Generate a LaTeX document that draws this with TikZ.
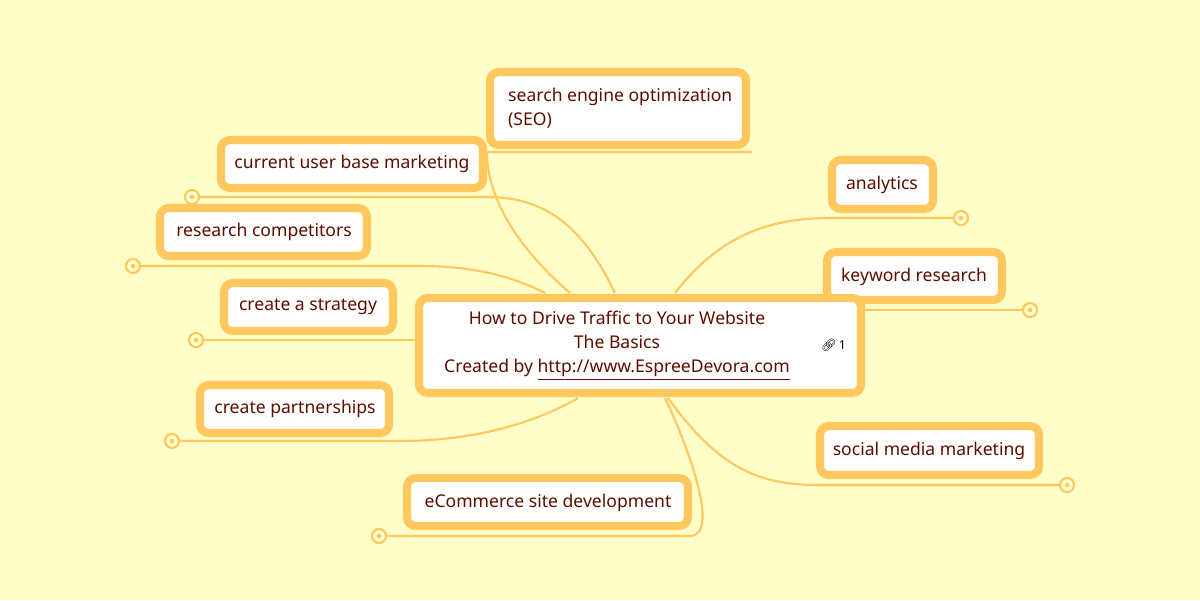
\documentclass[tikz,border=0pt]{standalone}
\usepackage{fontspec}
\setmainfont{Noto Sans}
\newfontfamily\emo{Noto Emoji}
\definecolor{bg}{HTML}{FFFDC8}
\definecolor{ob}{HTML}{FFC85E}
\definecolor{tx}{HTML}{5C0E00}
\begin{document}
\begin{tikzpicture}[x=0.02cm,y=-0.02cm,
  bx/.style={draw=ob,line width=4.6pt,fill=white,rounded corners=5pt},
  lb/.style={text=tx,font=\fontsize{10}{13.6}\selectfont},
  con/.style={draw=ob,line width=1.2pt},
  dot/.style={circle,draw=ob,line width=1.2pt,fill=bg,minimum size=8pt,inner sep=0pt,
    path picture={\fill[ob] (path picture bounding box.center) circle (1.3pt);}}]
\fill[bg] (0,0) rectangle (1200,600);
\useasboundingbox (0,0) rectangle (1200,600);
\node[dot] (d1) at (192,197) {};
\node[dot] (d2) at (133,266) {};
\node[dot] (d3) at (196,340) {};
\node[dot] (d4) at (172,441) {};
\node[dot] (d5) at (379,536) {};
\node[dot] (d6) at (961,218) {};
\node[dot] (d7) at (1030,310) {};
\node[dot] (d8) at (1067,485) {};
\coordinate (s1) at (487,152); \coordinate (s2) at (752,152);
\coordinate (c1) at (570,293); \coordinate (c2) at (615,293);
\coordinate (c3) at (545,293); \coordinate (c4) at (578,398);
\coordinate (c5) at (665,398); \coordinate (c6) at (675,293);
\coordinate (c7) at (668,398);
\draw[con] (c1) .. controls (520,250) and (487,200) .. (s1) -- (s2);
\draw[con] (c2) .. controls (580,220) and (540,197) .. (486,197) -- (d1);
\draw[con] (c3) .. controls (510,275) and (470,266) .. (420,266) -- (d2);
\draw[con] (416,340) -- (d3);
\draw[con] (c4) .. controls (540,420) and (480,441) .. (400,441) -- (d4);
\draw[con] (c5) .. controls (690,450) and (720,536) .. (690,536) -- (d5);
\draw[con] (c6) .. controls (720,235) and (770,218) .. (830,218) -- (d6);
\draw[con] (860,310) -- (d7);
\draw[con] (c7) .. controls (720,470) and (760,485) .. (820,485) -- (d8);
\draw[bx] (490,72) rectangle (746,145);
\node[lb,align=left,anchor=west] (seot) at (502,108) {search engine optimization\\(SEO)};
\draw[bx] (221,140) rectangle (483,188);
\node[lb] (cub) at (352,164) {current user base marketing};
\draw[bx] (160,208) rectangle (367,256);
\node[lb] (rc) at (264,232) {research competitors};
\draw[bx] (224,283) rectangle (393,331);
\node[lb] (cs) at (308,307) {create a strategy};
\draw[bx] (200,385) rectangle (389,433);
\node[lb] (cp) at (295,409) {create partnerships};
\draw[bx] (407,478) rectangle (688,526);
\node[lb] (ec) at (548,503) {eCommerce site development};
\draw[bx] (832,160) rectangle (933,209);
\node[lb] (an) at (882,185) {analytics};
\draw[bx] (827,252) rectangle (1002,300);
\node[lb] (kr) at (914,277) {keyword research};
\draw[bx] (820,426) rectangle (1039,475);
\node[lb] (sm) at (929,451) {social media marketing};
\draw[bx] (419,298) rectangle (861,393);
\node[lb,align=center] (ct) at (617,346) {How to Drive Traffic to Your Website\\The Basics\\Created by \underline{http://www.EspreeDevora.com}};
\node[text=black,font=\fontsize{7}{8}\selectfont,anchor=west] (lk) at (815,345) {{\emo 🔗}\,1};
\end{tikzpicture}
\end{document}
